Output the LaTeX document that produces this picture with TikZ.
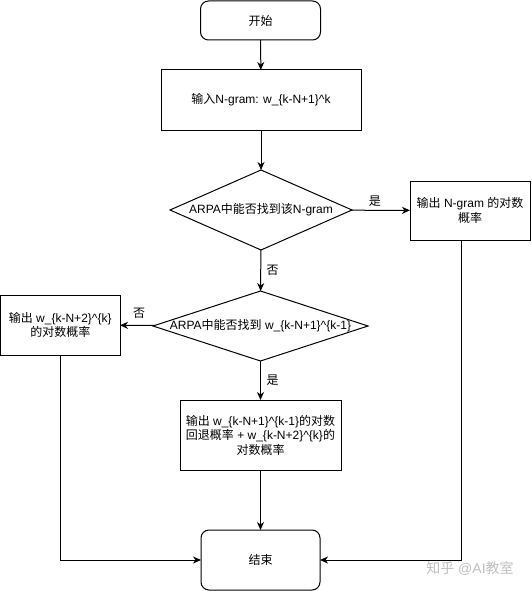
\documentclass[tikz,border=0pt]{standalone}
\usepackage{fontspec}
\setmainfont{Liberation Sans}
\newfontfamily\cjk{Noto Sans CJK SC}
\usetikzlibrary{shapes.geometric,arrows.meta}
\newcommand\zh[1]{{\cjk #1}}
\newcommand\caret{\textasciicircum}
\begin{document}
\begin{tikzpicture}[x=1pt,y=-1pt,
  every node/.style={font=\fontsize{12}{14.5}\selectfont, inner sep=0pt, outer sep=0pt},
  box/.style={draw, line width=1pt, align=center},
  term/.style={box, rounded corners=8pt},
  dec/.style={draw, line width=1pt, shape=diamond},
  flow/.style={line width=1pt, -{Stealth[length=8pt,width=7pt,inset=2.5pt]}},
  lbl/.style={font=\fontsize{12}{14.5}\selectfont}
]
\useasboundingbox (0,0) rectangle (531,591);
\node[term, minimum width=120pt, minimum height=39pt] (start) at (260.5,20.5) {\zh{开始}};
\node[box, minimum width=200pt, minimum height=60pt] (input) at (261,100) {\zh{输入}N-gram: w\_\{k-N+1\}\caret k};
\node[dec, minimum width=182pt, minimum height=80pt] (d1) at (261,210) {\makebox[0pt]{ARPA\zh{中能否找到该}N-gram}};
\node[box, minimum width=120pt, minimum height=59pt] (r1) at (470,210.5) {\zh{输出} N-gram \zh{的对数}\\\zh{概率}};
\node[dec, minimum width=215pt, minimum height=70pt] (d2) at (260.5,326) {\makebox[0pt]{ARPA\zh{中能否找到} w\_\{k-N+1\}\caret\{k-1\}}};
\node[box, minimum width=119.5pt, minimum height=60pt] (l1) at (60.25,325) {\zh{输出} w\_\{k-N+2\}\caret\{k\}\\\zh{的对数概率}};
\node[box, minimum width=161pt, minimum height=70pt] (b1) at (260.5,435) {\zh{输出} w\_\{k-N+1\}\caret\{k-1\}\zh{的对数}\\\zh{回退概率} + w\_\{k-N+2\}\caret\{k\}\zh{的}\\\zh{对数概率}};
\node[term, minimum width=119pt, minimum height=60pt] (end) at (260.5,560) {\zh{结束}};
\coordinate (r1b) at (461,240.5);
\draw[flow] (start) -- (input);
\draw[flow] (input) -- (d1);
\draw[flow] (d1) -- node[lbl, pos=0.5, right=6pt] {\zh{否}} (d2);
\draw[flow] (d1) -- node[lbl, above=4pt, pos=0.4] {\zh{是}} (r1);
\draw[flow] (d2) -- node[lbl, above=7pt, pos=0.45] {\zh{否}} (l1);
\draw[flow] (d2) -- node[lbl, pos=0.5, right=6pt] {\zh{是}} (b1);
\draw[flow] (b1) -- (end);
\draw[flow] (l1) |- (end);
\draw[flow] (r1b) |- (end);
\node[text=black!25, font=\fontsize{14}{16}\selectfont] (wm) at (470,569) {\zh{知乎} @AI\zh{教室}};
\end{tikzpicture}
\end{document}
